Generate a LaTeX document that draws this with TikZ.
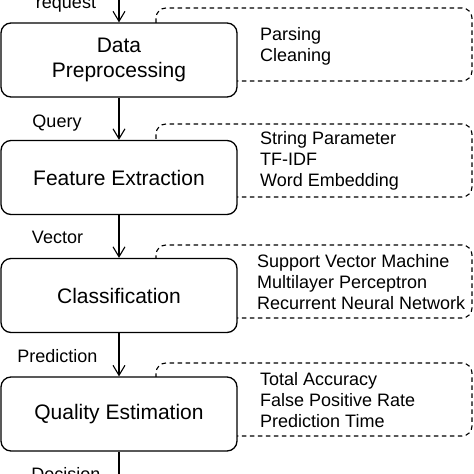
\documentclass[tikz,border=0pt]{standalone}
\usepackage{fontspec}
\setmainfont{Liberation Sans}
\usetikzlibrary{arrows.meta,positioning}
\tikzset{
    stage/.style={draw, fill=white, rounded corners=10pt, line width=1.3pt,
        minimum width=236pt, minimum height=74pt, align=center,
        font=\fontsize{21}{25}\selectfont},
    methods/.style={draw, dash pattern=on 4.5pt off 3.5pt, rounded corners=10pt,
        line width=1.1pt, minimum width=316pt, minimum height=73pt},
    methodtext/.style={anchor=west, align=left, inner sep=0pt,
        font=\fontsize{18}{21}\selectfont},
    flowlabel/.style={anchor=base, inner sep=0pt, font=\fontsize{18}{21}\selectfont},
    flow/.style={-{Straight Barb[length=10pt,width=12pt]}, line width=1.1pt}
}

\begin{document}
\begin{tikzpicture}[x=1pt, y=-1pt]
    \clip (0,0) rectangle (474,474);

    % method boxes behind the stages
    \node[methods] (prepm) at (314,44.5) {};
    \node[methods] (featm) at (314,160.5) {};
    \node[methods] (clasm) at (314,281.5) {};
    \node[methods] (qualm) at (314,399.5) {};

    \node[methodtext] (prept) at (260,46) {Parsing\\Cleaning};
    \node[methodtext] (featt) at (260,161) {String Parameter\\TF-IDF\\Word Embedding};
    \node[methodtext] (clast) at (257,282) {Support Vector Machine\\Multilayer Perceptron\\Recurrent Neural Network};
    \node[methodtext] (qualt) at (260,400) {Total Accuracy\\False Positive Rate\\Prediction Time};

    % pipeline stages
    \node[stage] (prep) at (119,60) {Data\\Preprocessing};
    \node[stage] (feat) at (119,177.5) {Feature Extraction};
    \node[stage] (clas) at (119,295.5) {Classification};
    \node[stage] (qual) at (119,414) {Quality Estimation};

    \coordinate (start) at (119,-20);
    \coordinate (stop) at (119,500);

    \draw[flow] (start) -- (prep.north);
    \draw[flow] (prep.south) -- (feat.north);
    \draw[flow] (feat.south) -- (clas.north);
    \draw[flow] (clas.south) -- (qual.north);
    \draw[flow] (qual.south) -- (stop);

    % data passed between stages
    \node[flowlabel] (lreq) at (66,8) {request};
    \node[flowlabel] (lqry) at (57,127) {Query};
    \node[flowlabel] (lvec) at (57.5,243) {Vector};
    \node[flowlabel] (lpre) at (57.5,362) {Prediction};
    \node[flowlabel] (ldec) at (66,480) {Decision};
\end{tikzpicture}
\end{document}
